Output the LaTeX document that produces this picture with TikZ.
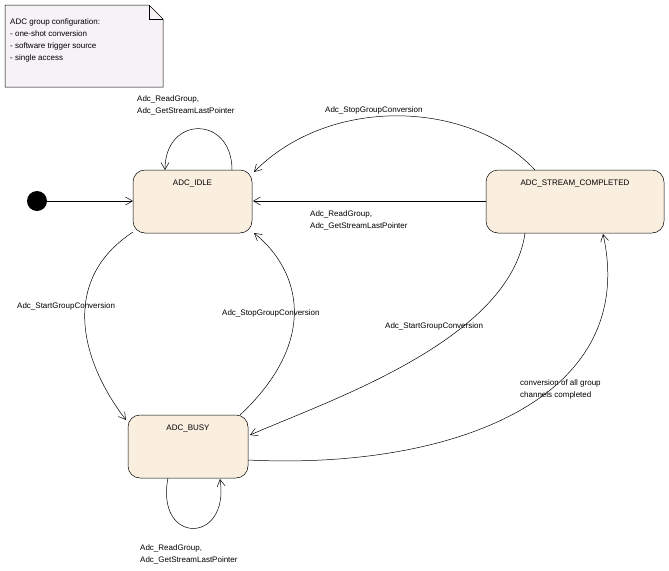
\documentclass[tikz,border=0pt]{standalone}
\usepackage{fontspec}
\setmainfont{Liberation Sans}
\usetikzlibrary{arrows.meta}
\definecolor{stfill}{HTML}{FAEEDF}
\definecolor{notefill}{HTML}{F6F2F6}
\begin{document}
\begin{tikzpicture}[x=1pt,y=-1pt,
  state/.style={draw,rounded corners=12pt,fill=stfill,line width=0.5pt},
  stlab/.style={font=\fontsize{8}{9}\selectfont,anchor=north},
  lab/.style={font=\fontsize{8}{12}\selectfont,align=left,anchor=north west,inner sep=0},
  tr/.style={-{Straight Barb[length=7pt,width=8pt]},line width=0.5pt}]
\useasboundingbox (0,0) rectangle (669,570);
% note
\draw[fill=notefill,line width=0.5pt] (5,5) -- (149,5) -- (163,19) -- (163,87) -- (5,87) -- cycle;
\draw[line width=0.5pt] (149,5) -- (149,19) -- (163,19);
\node[lab] (note) at (10,19) {ADC group configuration:\\- one-shot conversion\\- software trigger source\\- single access};
% states
\draw[state] (133,170) rectangle (252,233);
\node[stlab] (idle) at (192.5,176) {ADC\_IDLE};
\draw[state] (486,170) rectangle (664,233);
\node[stlab] (stream) at (575,176) {ADC\_STREAM\_COMPLETED};
\draw[state] (128,415) rectangle (248,478);
\node[stlab] (busy) at (188,421) {ADC\_BUSY};
\fill (37,201) circle (10);
\coordinate (init) at (37,201);
\draw[tr] (init) ++(10,0) -- (133,201);
% idle self loop
\draw[tr] (232,170) .. controls (232,115) and (165,115) .. (165,170);
\node[lab] (l1) at (137,96) {Adc\_ReadGroup,\\Adc\_GetStreamLastPointer};
% stream -> idle
\draw[tr] (535,170) .. controls (470,100) and (330,95) .. (254,172);
\node[lab] (l2) at (325,107) {Adc\_StopGroupConversion};
\draw[tr] (486,201) -- (253,201);
\node[lab] (l3) at (310,210) {Adc\_ReadGroup,\\Adc\_GetStreamLastPointer};
% idle -> busy
\draw[tr] (133,232) .. controls (60,280) and (80,360) .. (126,420);
\node[lab] (l4) at (17,302) {Adc\_StartGroupConversion};
% busy -> idle
\draw[tr] (240,415) .. controls (320,340) and (300,270) .. (254,233);
\node[lab] (l5) at (222,309) {Adc\_StopGroupConversion};
% stream -> busy
\draw[tr] (525,233) .. controls (510,340) and (330,400) .. (250,435);
\node[lab] (l6) at (385,322) {Adc\_StartGroupConversion};
% busy -> stream
\draw[tr] (248,460) .. controls (450,470) and (640,400) .. (603,234);
\node[lab] (l7) at (520,379) {conversion of all group\\channels completed};
% busy self loop
\draw[tr] (168,478) .. controls (155,545) and (230,545) .. (220,479);
\node[lab] (l8) at (140,544) {Adc\_ReadGroup,\\Adc\_GetStreamLastPointer};
\end{tikzpicture}
\end{document}
